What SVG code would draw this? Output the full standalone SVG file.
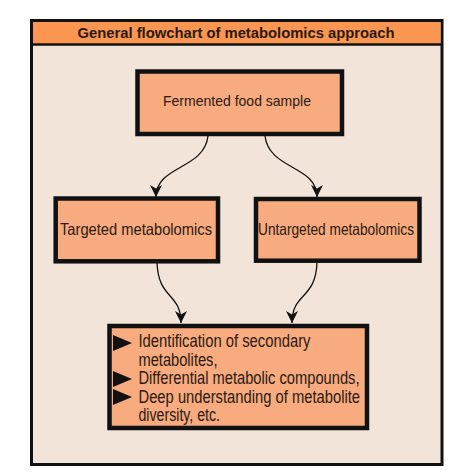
<svg xmlns="http://www.w3.org/2000/svg" width="474" height="474" viewBox="0 0 474 474">
<defs>
<marker id="ah" markerWidth="12" markerHeight="12" refX="10" refY="5" orient="auto" markerUnits="userSpaceOnUse" viewBox="0 0 10 10">
<path d="M0,0 L10,5 L0,10 L3,5 z" fill="#111"/>
</marker>
<style>
.frame{fill:#F2E4D8;stroke:#111;stroke-width:3}
.node{fill:#F8AB7F;stroke:#111;stroke-width:4.5}
.t{font-family:"Liberation Sans",Arial,sans-serif;fill:#2a1a12}
.conn{fill:none;stroke:#111;stroke-width:1.3;marker-end:url(#ah)}
.bul{fill:#111}
</style>
</defs>
<rect width="474" height="474" fill="#fff"/>
<g id="frame">
<rect class="frame" x="31.5" y="20.5" width="410.5" height="444"/>
<rect x="33" y="22" width="407.5" height="22" fill="#FA964F"/>
<line x1="31.5" y1="44.5" x2="442" y2="44.5" stroke="#111" stroke-width="2.5"/>
<text class="t" x="236" y="38.3" font-size="15" font-weight="bold" text-anchor="middle" textLength="317" lengthAdjust="spacingAndGlyphs">General flowchart of metabolomics approach</text>
</g>
<g id="connectors">
<path class="conn" d="M208,136 C204,170 156,165 156,197"/>
<path class="conn" d="M265,136 C269,170 317,165 317,197"/>
<path class="conn" d="M157,262 C158,300 181,292 181,323"/>
<path class="conn" d="M317,262 C316,300 292,292 292,323"/>
</g>
<g id="n_sample">
<rect class="node" x="137.5" y="71.5" width="204.5" height="62.5"/>
<text class="t" x="237" y="105.7" font-size="15" text-anchor="middle" textLength="148" lengthAdjust="spacingAndGlyphs">Fermented food sample</text>
</g>
<g id="n_targeted">
<rect class="node" x="55.7" y="198.5" width="162.3" height="62.8"/>
<text class="t" x="136" y="234.5" font-size="16.5" text-anchor="middle" textLength="152" lengthAdjust="spacingAndGlyphs">Targeted metabolomics</text>
</g>
<g id="n_untargeted">
<rect class="node" x="256" y="199" width="163.5" height="61.7"/>
<text class="t" x="336" y="234.5" font-size="16.5" text-anchor="middle" textLength="156" lengthAdjust="spacingAndGlyphs">Untargeted metabolomics</text>
</g>
<g id="n_results">
<rect class="node" x="109.5" y="326" width="257.5" height="102"/>
<polygon class="bul" points="113,335 132,343 113,351"/>
<polygon class="bul" points="113,371 132,379 113,387"/>
<polygon class="bul" points="113,389 132,397 113,405"/>
<text class="t" font-size="17.5">
<tspan x="138.5" y="347.3" textLength="172" lengthAdjust="spacingAndGlyphs">Identification of secondary</tspan>
<tspan x="138.5" y="365.5" textLength="79" lengthAdjust="spacingAndGlyphs">metabolites,</tspan>
<tspan x="138.5" y="384" textLength="221" lengthAdjust="spacingAndGlyphs">Differential metabolic compounds,</tspan>
<tspan x="138.5" y="402.5" textLength="221.5" lengthAdjust="spacingAndGlyphs">Deep understanding of metabolite</tspan>
<tspan x="138.5" y="421" textLength="81.5" lengthAdjust="spacingAndGlyphs">diversity, etc.</tspan>
</text>
</g>
</svg>
